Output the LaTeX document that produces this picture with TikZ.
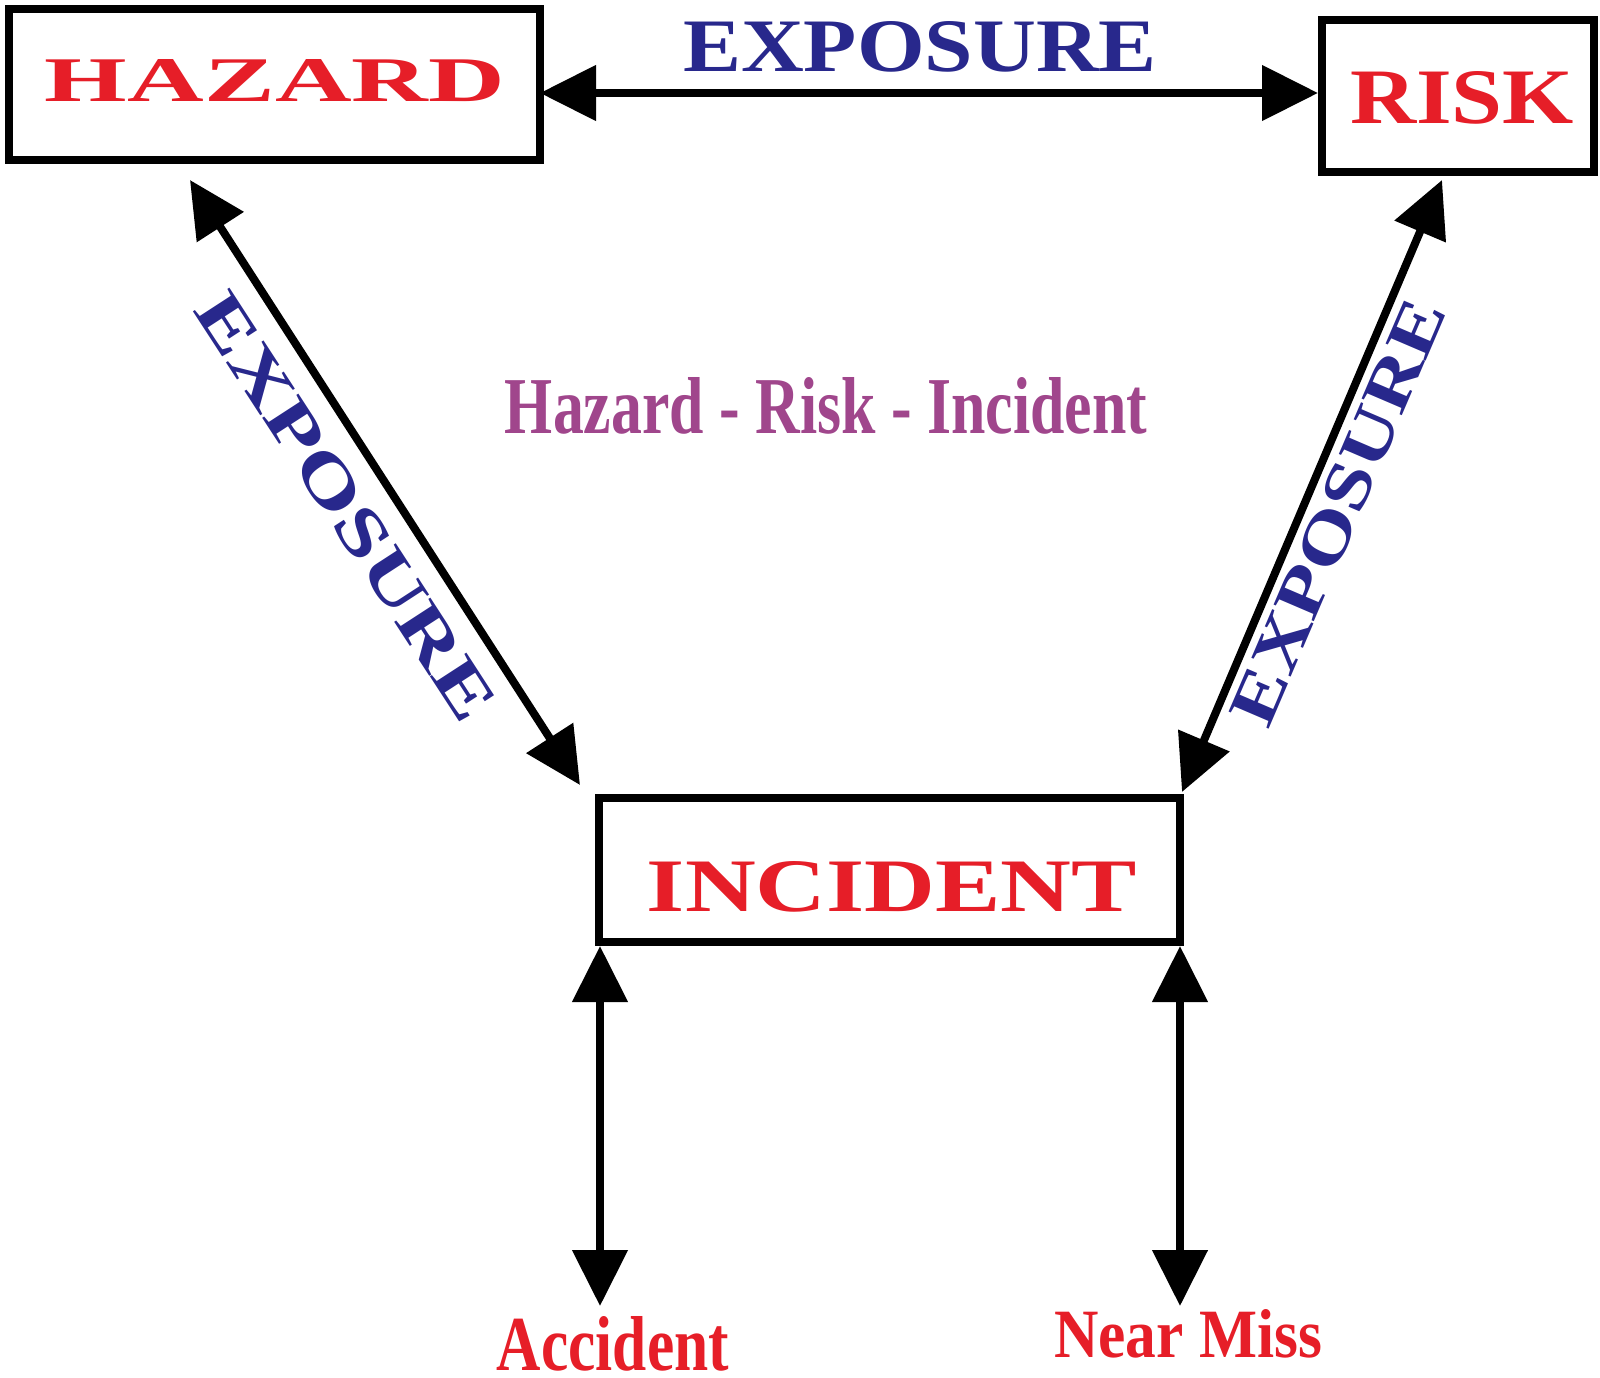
\documentclass[tikz,border=0pt]{standalone}
\usepackage{fontspec}
\setmainfont{Liberation Serif}
\usetikzlibrary{arrows.meta}
\definecolor{hred}{RGB}{230,30,40}
\definecolor{hblue}{RGB}{40,40,140}
\definecolor{hpurp}{RGB}{160,70,140}
\tikzset{
  box/.style={draw=black,line width=4pt,fill=white,inner sep=0pt},
  arr/.style={line width=4pt,{Triangle[length=28pt,width=27pt]}-{Triangle[length=28pt,width=27pt]}},
  lbl/.style={inner sep=0pt,font=\bfseries}
}
\begin{document}
\begin{tikzpicture}[x=0.5pt,y=-0.5pt]
\useasboundingbox (0,0) rectangle (1600,1377);
% boxes
\draw[box] (9,9) rectangle (540,160);
\draw[box] (1322,20) rectangle (1594,172);
\draw[box] (599,798) rectangle (1180,942);
\node[lbl,text=hred] (hazard) at (275,81) {\resizebox{230pt}{21pt}{HAZARD}};
\node[lbl,text=hred] (risk) at (1462,98) {\resizebox{112pt}{26pt}{RISK}};
\node[lbl,text=hred] (incident) at (892,887) {\resizebox{245pt}{25pt}{INCIDENT}};
\node[lbl,text=hblue] (exptop) at (920,47) {\resizebox{237pt}{25pt}{EXPOSURE}};
\node[lbl,text=hpurp] (title) at (826,406) {\resizebox{321pt}{28pt}{Hazard - Risk - Incident}};
\node[lbl,text=hred] (acc) at (613,1344) {\resizebox{116pt}{27pt}{Accident}};
\node[lbl,text=hred] (near) at (1188,1334) {\resizebox{134pt}{24pt}{Near Miss}};
\node[lbl,text=hblue,rotate=-57] (expl) at (346,507) {\resizebox{248pt}{22pt}{EXPOSURE}};
\node[lbl,text=hblue,rotate=66.8] (expr) at (1338,512) {\resizebox{228pt}{22pt}{EXPOSURE}};
% arrow endpoints
\coordinate (a1) at (540,93); \coordinate (a2) at (1318,93);
\coordinate (b1) at (190,180); \coordinate (b2) at (580,785);
\coordinate (c1) at (1442,180); \coordinate (c2) at (1182,792);
\coordinate (d1) at (600,946); \coordinate (d2) at (600,1306);
\coordinate (e1) at (1180,946); \coordinate (e2) at (1180,1306);
\draw[arr] (a1) -- (a2);
\draw[arr] (b1) -- (b2);
\draw[arr] (c1) -- (c2);
\draw[arr] (d1) -- (d2);
\draw[arr] (e1) -- (e2);
\end{tikzpicture}
\end{document}
